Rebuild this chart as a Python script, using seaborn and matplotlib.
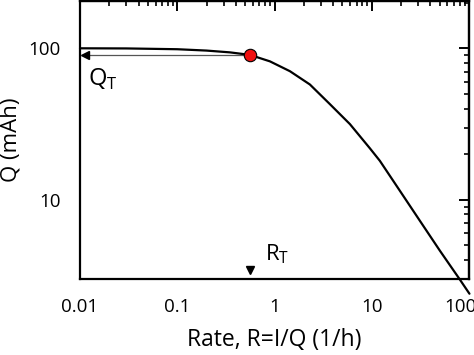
import matplotlib
matplotlib.use("Agg")
import matplotlib.pyplot as plt
import matplotlib.ticker as mticker
import matplotlib.transforms as mtransforms
import numpy as np
import pandas as pd
import seaborn as sns

# curve: rate R (1/h) vs capacity Q (mAh)
rate = [0.01, 0.03, 0.1, 0.2, 0.348, 0.558, 0.897, 1.44, 2.31, 3.71, 5.96,
        9.55, 12.1, 19.4, 31.2, 50.1, 80.4, 101]
capacity = [100, 99.8, 98.6, 96.6, 94, 90.5, 82, 70.6, 57.7, 42.8, 31.6,
            21.9, 18.1, 11.5, 7.28, 4.62, 2.98, 2.4]

# transition point
r_t = [0.558]
q_t = [90.5]

x_ticks = [0.01, 0.1, 1, 10, 100]
y_ticks = [10, 100]

sns.set_style("white")
plt.rcParams['font.family'] = ['Open Sans', 'DejaVu Sans']
plt.rcParams['mathtext.fontset'] = 'custom'
plt.rcParams['mathtext.rm'] = 'Open Sans'
for k in ['text.color', 'axes.labelcolor', 'xtick.color', 'ytick.color']:
    plt.rcParams[k] = 'black'

df = pd.DataFrame({"R": rate, "Q": capacity})
pt = pd.DataFrame({"R": r_t, "Q": q_t})

fig = plt.figure(figsize=(4.74, 3.55), dpi=100)
ax = fig.add_axes([0.1688, 0.214, 0.8207, 0.783])

sns.lineplot(data=df, x="R", y="Q", ax=ax, color="black", lw=1.6,
             clip_on=False, zorder=3)
ax.set_xscale("log")
ax.set_yscale("log")
ax.set_xlim(0.01, 100)
ax.set_ylim(3, 205)

# arrow from the point back to the Q axis: grey shaft, black head
ax.plot([0.0112, r_t[0]], [q_t[0], q_t[0]], color="#555555", lw=0.9)
ax.plot([0.0112], q_t, marker="<", color="black", markersize=6, ls="none")
sns.scatterplot(data=pt, x="R", y="Q", ax=ax, color="#f01010", s=80,
                edgecolor="black", linewidth=0.8, zorder=5)
ax.plot(r_t, [3.45], marker="v", color="black", markersize=6, ls="none")

ax.text(0.0122, 62, "Q$_{\\mathrm{T}}$", fontsize=17, va="center")
ax.text(0.8, 4.4, "R$_{\\mathrm{T}}$", fontsize=16, va="center")

fmt = mticker.FuncFormatter(lambda v, p: "{:g}".format(v))
ax.xaxis.set_major_locator(mticker.FixedLocator(x_ticks))
ax.yaxis.set_major_locator(mticker.FixedLocator(y_ticks))
ax.xaxis.set_major_formatter(fmt)
ax.yaxis.set_major_formatter(fmt)
ax.yaxis.set_minor_formatter(mticker.NullFormatter())
ax.xaxis.set_minor_formatter(mticker.NullFormatter())
ax.tick_params(which="major", direction="out", length=7, width=1.4,
               labelsize=13.5, pad=7, color="black")
ax.tick_params(which="minor", direction="out", length=3.5, width=1.2,
               color="black")

sx = ax.secondary_xaxis("top")
sy = ax.secondary_yaxis("right")
for s in (sx, sy):
    s.tick_params(which="major", direction="in", length=7, width=1.4,
                  labelsize=0, color="black")
    s.tick_params(which="minor", direction="in", length=3.5, width=1.2,
                  color="black")
sx.set_xticklabels([])
sy.set_yticklabels([])
sx.xaxis.set_minor_formatter(mticker.NullFormatter())
sy.yaxis.set_minor_formatter(mticker.NullFormatter())
for s in (sx, sy):
    for sp in s.spines.values():
        sp.set_linewidth(1.6)

for sp in ax.spines.values():
    sp.set_visible(True)
    sp.set_linewidth(1.6)
    sp.set_color("black")

# the last label sits a little left of its tick, as in the original
last = ax.xaxis.get_major_ticks()[-1].label1
last.set_transform(last.get_transform() +
                   mtransforms.ScaledTranslation(-9 / 100, 0, fig.dpi_scale_trans))

ax.set_xlabel("Rate, R=I/Q (1/h)", fontsize=16.5, labelpad=8)
ax.set_ylabel("Q (mAh)", fontsize=16, labelpad=5)

fig.savefig("out.png", dpi=100)
